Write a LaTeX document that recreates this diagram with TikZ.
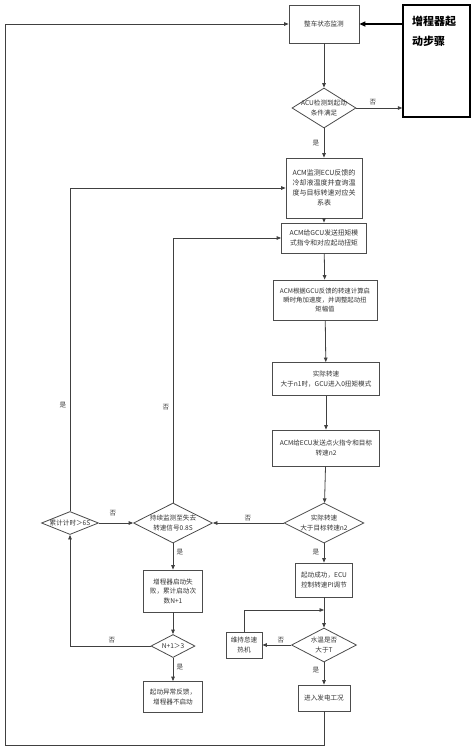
\documentclass[tikz,border=0pt]{standalone}
\usepackage{fontspec}
\newfontfamily\cjk{Noto Sans CJK SC}
\usetikzlibrary{shapes.geometric,arrows.meta}
\begin{document}
\begin{tikzpicture}[x=1pt,y=-1pt,
  lc/.style={draw=black!70,line width=0.8pt},
  box/.style={lc,rectangle,fill=white,align=center,inner sep=1pt,text=black!80,
    font=\cjk\fontsize{6.6}{9.5}\selectfont},
  dia/.style={lc,diamond,fill=white,inner sep=0pt},
  dtxt/.style={align=center,inner sep=0pt,text=black!80,font=\cjk\fontsize{6.6}{9.5}\selectfont},
  lbl/.style={inner sep=0pt,text=black!75,font=\cjk\fontsize{6.6}{8}\selectfont},
  conn/.style={draw=black!75,line width=0.8pt},
  arr/.style={conn,-{Triangle[length=4.5pt,width=3.6pt]}},
]
\useasboundingbox[fill=white] (0,0) rectangle (474,750);

% nodes
\node[box,minimum width=70pt,minimum height=38pt] (n1) at (324,24) {整车状态监测};
\node[draw=black,line width=1.5pt,minimum width=67pt,minimum height=112pt,inner sep=0pt] (big) at (436.5,61) {};
\node[anchor=north west,align=left,inner sep=0pt,font=\cjk\bfseries\fontsize{11}{20}\selectfont] (bigt) at (412,16) {增程器起\\动步骤};

\node[dia,minimum width=64pt,minimum height=40pt] (d1) at (324,108) {};
\node[dtxt] (d1t) at (d1) {ACU检测到起动\\条件满足};

\node[box,minimum width=76pt,minimum height=60pt,font=\cjk\fontsize{7}{10}\selectfont] (b3) at (324,188) {ACM监测ECU反馈的\\冷却液温度并查询温\\度与目标转速对应关\\系表};
\node[box,minimum width=85pt,minimum height=30pt,font=\cjk\fontsize{6.8}{10}\selectfont] (b4) at (324,238) {ACM给GCU发送扭矩模\\式指令和对应起动扭矩};
\node[box,minimum width=104pt,minimum height=40pt,font=\cjk\fontsize{6.4}{9}\selectfont] (b5) at (325,300) {ACM根据GCU反馈的转速计算启\\瞬时角加速度，并调整起动扭\\矩幅值};
\node[box,minimum width=107pt,minimum height=33pt] (b6) at (326,379) {实际转速\\大于n1时，GCU进入0扭矩模式};
\node[box,minimum width=107pt,minimum height=36pt] (b7) at (326,448) {ACM给ECU发送点火指令和目标\\转速n2};

\node[dia,minimum width=80pt,minimum height=40pt] (d8) at (324,523) {};
\node[dtxt] (d8t) at (d8) {实际转速\\大于目标转速n2};

\node[box,minimum width=57pt,minimum height=34pt] (b9) at (324,580) {起动成功，ECU\\控制转速PI调节};
\node[dia,minimum width=65pt,minimum height=34pt] (d15) at (324,645) {};
\node[dtxt] (d15t) at (d15) {水温是否\\大于T};
\node[box,minimum width=36pt,minimum height=26pt] (b16) at (244,645) {维持怠速\\热机};
\node[box,minimum width=52pt,minimum height=26pt] (b17) at (324,698) {进入发电工况};

\node[dia,minimum width=79pt,minimum height=40pt] (d10) at (173,523) {};
\node[dtxt] (d10t) at (d10) {持续监测至失去\\转速信号0.8S};
\node[dia,minimum width=57pt,minimum height=23pt] (d11) at (70,523) {};
\node[dtxt] (d11t) at (d11) {累计计时＞6S};

\node[box,minimum width=59pt,minimum height=42pt] (b12) at (173,591) {增程器启动失\\败，累计启动次\\数N+1};
\node[dia,minimum width=44pt,minimum height=23pt] (d13) at (173,646) {};
\node[dtxt] (d13t) at (d13) {N+1＞3};
\node[box,minimum width=59pt,minimum height=31pt] (b14) at (173,697) {起动异常反馈，\\增程器不启动};

% helper coordinates
\coordinate (j) at (324,610);
\coordinate (cb) at (324,745);
\coordinate (cl) at (5,745);

% connectors
\draw[draw=black,line width=1.5pt,-{Triangle[length=6pt,width=5pt]}] (n1.east -| big.west) -- (n1.east);
\draw[arr] (n1) -- (d1);
\draw[arr] (d1.east) -- (d1.east -| big.west);
\draw[arr] (d1) -- (b3);
\draw[arr] (b3) -- (b4);
\draw[arr] (b4) -- (b5);
\draw[arr] (b5) -- (b6);
\draw[arr] (b6) -- (b7);
\draw[arr] (b7) -- (d8);
\draw[arr] (d8.west) -- (d10.east);
\draw[arr] (d8) -- (b9);
\draw[conn] (b9) -- (j);
\draw[arr] (j) -- (d15);
\draw[arr] (d15.west) -- (b16.east);
\draw[arr] (b16.north) |- (j);
\draw[arr] (d15) -- (b17);
\draw[arr] (b17) -- (cb) -- (cl) |- (n1.west);
\draw[arr] (d11.east) -- (d10.west);
\draw[arr] (d11.north) |- (b3.west);
\draw[arr] (d10.north) |- (b4.west);
\draw[arr] (d10) -- (b12);
\draw[arr] (b12) -- (d13);
\draw[arr] (d13.west) -| (d11.south);
\draw[arr] (d13) -- (b14);

% connector labels
\node[lbl] (l1) at (373,102) {否};
\node[lbl] (l2) at (316,143) {是};
\node[lbl] (l3) at (248,518) {否};
\node[lbl] (l4) at (316,552) {是};
\node[lbl] (l5) at (281,640) {否};
\node[lbl] (l6) at (316,670) {是};
\node[lbl] (l7) at (113,513) {否};
\node[lbl] (l8) at (63,405) {是};
\node[lbl] (l9) at (166,407) {否};
\node[lbl] (l10) at (180,552) {是};
\node[lbl] (l11) at (112,640) {否};
\node[lbl] (l12) at (180,667) {是};
\end{tikzpicture}
\end{document}
